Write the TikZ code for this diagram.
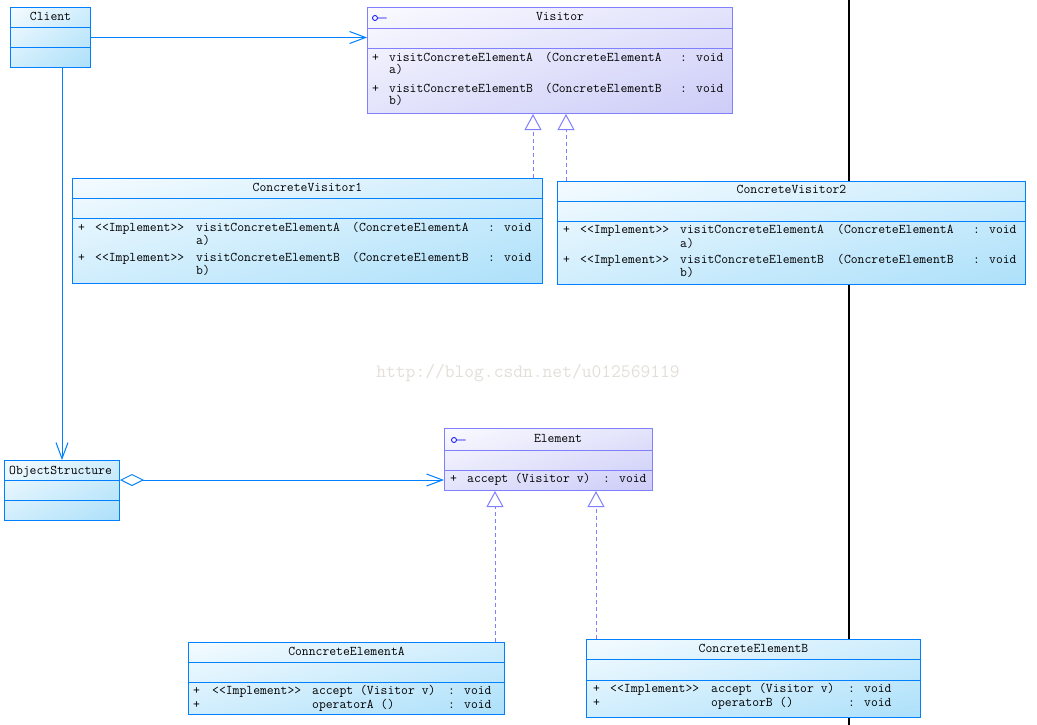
\documentclass[tikz,border=0pt]{standalone}
\usetikzlibrary{arrows.meta,shadings}
\definecolor{clsline}{RGB}{0,128,255}
\definecolor{clstop}{RGB}{244,251,255}
\definecolor{clsbot}{RGB}{172,224,250}
\colorlet{clsmid}{clstop!50!clsbot}
\definecolor{ifline}{RGB}{128,128,255}
\definecolor{iftop}{RGB}{250,250,255}
\definecolor{ifbot}{RGB}{204,204,248}
\colorlet{ifmid}{iftop!50!ifbot}
\definecolor{iconblue}{RGB}{0,0,255}
\definecolor{wmark}{RGB}{226,223,216}
\newcommand{\fixcol}[2]{\makebox[#1][l]{#2}}
\newcommand{\impl}{<\kern0pt<Implement>\kern0pt>}
\begin{document}
\begin{tikzpicture}[
                        x=1pt, y=-1pt,
                        cls/.style={draw=clsline, line width=1pt, shade, shading=bilinear interpolation, upper left=clstop, upper right=clsmid, lower left=clsmid, lower right=clsbot, anchor=north west, inner sep=0pt},
                        iface/.style={cls, draw=ifline, upper left=iftop, upper right=ifmid, lower left=ifmid, lower right=ifbot},
                        txt/.style={font=\ttfamily\fontsize{13.3}{15}\selectfont, inner sep=0pt, anchor=base west},
                        ttl/.style={txt, anchor=base},
                        assoc/.style={draw=clsline, line width=1pt, -{Straight Barb[length=16pt,width=12pt]}},
                        aggr/.style={assoc, {Diamond[open,length=24pt,width=12pt,fill=white]}-{Straight Barb[length=16pt,width=12pt]}},
                        realize/.style={draw=ifline, line width=1pt, dash pattern=on 4pt off 3pt, -{Triangle[open,length=16pt,width=17pt,fill=white]}}
                    ]
                    \useasboundingbox (0,0) rectangle (1037,725);
                    \draw[line width=1.3pt] (849,0) -- (849,725);

                    % Blocks
                    \node[cls, minimum width=80pt, minimum height=60pt] (client) at (10,7) {};
                    \node[iface, minimum width=365pt, minimum height=106pt] (visitor) at (367,7) {};
                    \node[cls, minimum width=470pt, minimum height=105pt] (cv1) at (72,178) {};
                    \node[cls, minimum width=468pt, minimum height=103pt] (cv2) at (557,181) {};
                    \node[iface, minimum width=208pt, minimum height=62pt] (element) at (444,428) {};
                    \node[cls, minimum width=115pt, minimum height=60pt] (os) at (4,460) {};
                    \node[cls, minimum width=316pt, minimum height=72pt] (cea) at (188,642) {};
                    \node[cls, minimum width=334pt, minimum height=78pt] (ceb) at (586,639) {};

                    % Compartments
                    \draw[clsline] (client.west |- 0,27) -- (client.east |- 0,27) (client.west |- 0,47) -- (client.east |- 0,47);
                    \draw[ifline] (visitor.west |- 0,28) -- (visitor.east |- 0,28) (visitor.west |- 0,48) -- (visitor.east |- 0,48);
                    \draw[clsline] (cv1.west |- 0,198) -- (cv1.east |- 0,198) (cv1.west |- 0,218) -- (cv1.east |- 0,218);
                    \draw[clsline] (cv2.west |- 0,201) -- (cv2.east |- 0,201) (cv2.west |- 0,221) -- (cv2.east |- 0,221);
                    \draw[ifline] (element.west |- 0,450) -- (element.east |- 0,450) (element.west |- 0,470) -- (element.east |- 0,470);
                    \draw[clsline] (os.west |- 0,480) -- (os.east |- 0,480) (os.west |- 0,500) -- (os.east |- 0,500);
                    \draw[clsline] (cea.west |- 0,662) -- (cea.east |- 0,662) (cea.west |- 0,682) -- (cea.east |- 0,682);
                    \draw[clsline] (ceb.west |- 0,659) -- (ceb.east |- 0,659) (ceb.west |- 0,680) -- (ceb.east |- 0,680);

                    % Interface marks
                    \draw[iconblue, line width=0.8pt] ([shift={(8,11)}]visitor.north west) circle[radius=2.5pt] ++(2.5,0) -- ++(9,0);
                    \draw[iconblue, line width=0.8pt] ([shift={(10,12)}]element.north west) circle[radius=2.5pt] ++(2.5,0) -- ++(9,0);

                    % Titles
                    \node[ttl] (client-t) at (client.north |- 0,21) {Client};
                    \node[ttl] (visitor-t) at (560,21) {Visitor};
                    \node[ttl] (cv1-t) at (cv1.north |- 0,191) {ConcreteVisitor1};
                    \node[ttl] (cv2-t) at (cv2.north |- 0,193) {ConcreteVisitor2};
                    \node[ttl] (element-t) at (558,442) {Element};
                    \node[txt] (os-t) at (9,474) {ObjectStructure};
                    \node[ttl] (cea-t) at (cea.north |- 0,655) {ConncreteElementA};
                    \node[ttl] (ceb-t) at (ceb.north |- 0,652) {ConcreteElementB};

                    % Operations
                    \node[txt] (visitor-op1) at (372,62) {\fixcol{17pt}{+}\fixcol{156pt}{visitConcreteElementA}\fixcol{135pt}{(ConcreteElementA}: void};
                    \node[txt] (visitor-op1b) at (389,74) {a)};
                    \node[txt] (visitor-op2) at (372,92.5) {\fixcol{17pt}{+}\fixcol{156pt}{visitConcreteElementB}\fixcol{135pt}{(ConcreteElementB}: void};
                    \node[txt] (visitor-op2b) at (389,104.5) {b)};

                    \node[txt] (cv1-op1) at (78,231) {\fixcol{17pt}{+}\fixcol{101pt}{\impl}\fixcol{156pt}{visitConcreteElementA}\fixcol{136pt}{(ConcreteElementA}: void};
                    \node[txt] (cv1-op1b) at (196,244) {a)};
                    \node[txt] (cv1-op2) at (78,261) {\fixcol{17pt}{+}\fixcol{101pt}{\impl}\fixcol{156pt}{visitConcreteElementB}\fixcol{136pt}{(ConcreteElementB}: void};
                    \node[txt] (cv1-op2b) at (196,274) {b)};

                    \node[txt] (cv2-op1) at (563,233) {\fixcol{17pt}{+}\fixcol{100pt}{\impl}\fixcol{157pt}{visitConcreteElementA}\fixcol{136pt}{(ConcreteElementA}: void};
                    \node[txt] (cv2-op1b) at (680,247) {a)};
                    \node[txt] (cv2-op2) at (563,263) {\fixcol{17pt}{+}\fixcol{100pt}{\impl}\fixcol{157pt}{visitConcreteElementB}\fixcol{136pt}{(ConcreteElementB}: void};
                    \node[txt] (cv2-op2b) at (680,276) {b)};

                    \node[txt] (element-op1) at (450,482) {\fixcol{17pt}{+}\fixcol{136pt}{accept (Visitor v)}: void};

                    \node[txt] (cea-op1) at (193,694) {\fixcol{19pt}{+}\fixcol{100pt}{\impl}\fixcol{136pt}{accept (Visitor v)}: void};
                    \node[txt] (cea-op2) at (193,708) {\fixcol{19pt}{+}\fixcol{100pt}{}\fixcol{136pt}{operatorA ()}: void};
                    \node[txt] (ceb-op1) at (593,692.5) {\fixcol{17pt}{+}\fixcol{101pt}{\impl}\fixcol{137pt}{accept (Visitor v)}: void};
                    \node[txt] (ceb-op2) at (593,706.5) {\fixcol{17pt}{+}\fixcol{101pt}{}\fixcol{137pt}{operatorB ()}: void};

                    \node[font=\ttfamily\fontsize{19}{20}\selectfont, text=wmark] (watermark) at (528,373) {http://blog.csdn.net/u012569119};

                    % Connections
                    \draw[assoc] (client.east) -- (client.east -| visitor.west);
                    \draw[assoc] (client.south -| os.north) -- (os.north);
                    \draw[aggr] ([yshift=-20pt]os.north east) -- ([yshift=-20pt]os.north east -| element.west);
                    \draw[realize] ([xshift=-10pt]cv1.north east) -- ([xshift=-10pt]cv1.north east |- visitor.south);
                    \draw[realize] ([xshift=9pt]cv2.north west) -- ([xshift=9pt]cv2.north west |- visitor.south);
                    \draw[realize] ([xshift=-10pt]cea.north east) -- ([xshift=-10pt]cea.north east |- element.south);
                    \draw[realize] ([xshift=10pt]ceb.north west) -- ([xshift=10pt]ceb.north west |- element.south);
\end{tikzpicture}
\end{document}
